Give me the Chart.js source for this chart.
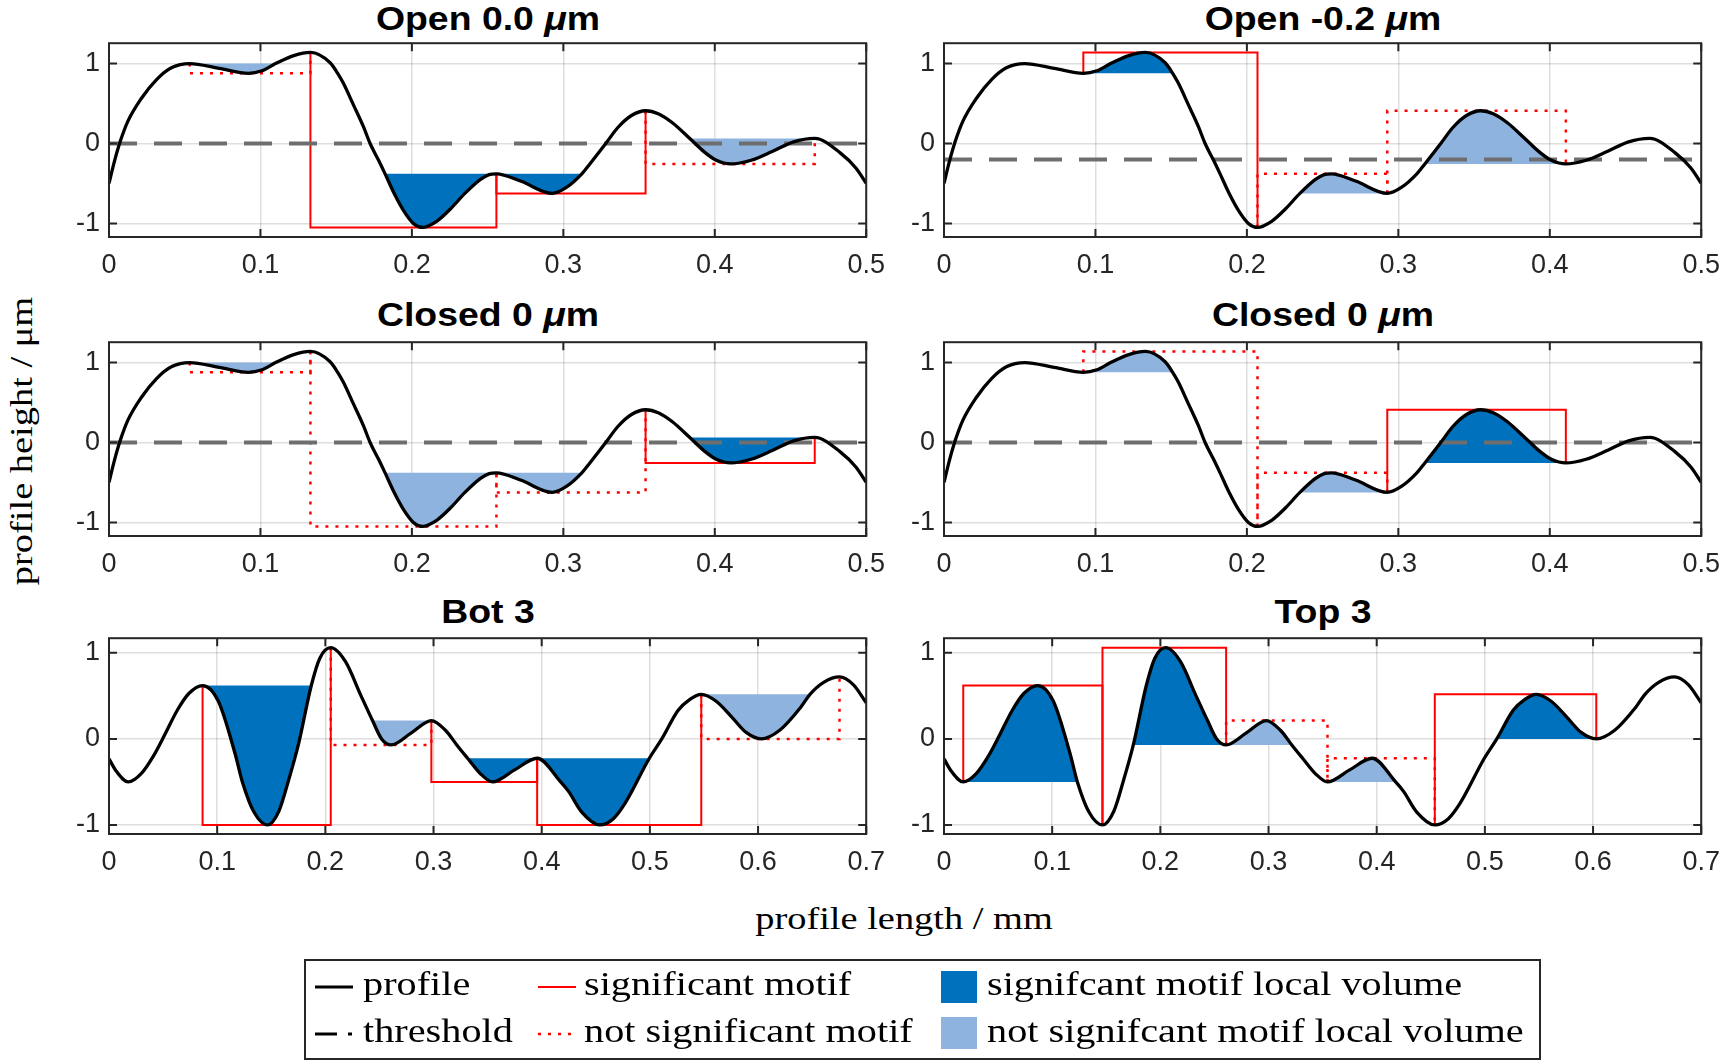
<!DOCTYPE html>
<html>
<head>
<meta charset="utf-8">
<script src="https://cdn.jsdelivr.net/npm/chart.js@4.4.1/dist/chart.umd.min.js"></script>
<style>
  body { margin: 0; background: #fff; width: 1720px; height: 1062px; position: relative; overflow: hidden; }
  canvas { position: absolute; }
  .title { position: absolute; font: bold 34px "Liberation Sans", Arial, sans-serif; line-height: 1; color: #000;
           white-space: nowrap; transform: translateX(-50%) scaleX(1.1); }
  .serif { position: absolute; font: 32px "Liberation Serif", "Times New Roman", serif; line-height: 1; color: #000;
           white-space: nowrap; }
  .lbl { font-size: 33px; transform-origin: left center; transform: scaleX(1.22); }
  #legend { position: absolute; left: 304px; top: 959px; width: 1233px; height: 97px; border: 2px solid #262626; }
  .patch { position: absolute; width: 36px; height: 32px; }
</style>
</head>
<body>

<script>
// ---- data ----
const xTicksShort = [0, 0.1, 0.2, 0.3, 0.4, 0.5];
const xTicksLong = [0, 0.1, 0.2, 0.3, 0.4, 0.5, 0.6, 0.7];
const yTicks = [-1, 0, 1];

// profile used in the upper four panels (mm, µm)
const profileAX = [0, 0.0035, 0.0075, 0.0125, 0.0212, 0.0314, 0.0415, 0.0533, 0.0727, 0.092, 0.101, 0.110, 0.122, 0.133,
  0.146, 0.151, 0.1547, 0.1614, 0.168, 0.1724, 0.178, 0.1823, 0.1879, 0.1945, 0.201, 0.207, 0.2166, 0.2254, 0.235,
  0.2453, 0.251, 0.2558, 0.2717, 0.2927, 0.302, 0.3122, 0.3175, 0.328, 0.336, 0.345, 0.3543, 0.363, 0.372, 0.3835,
  0.393, 0.401, 0.4106, 0.424, 0.4383, 0.452, 0.466, 0.483, 0.4933, 0.5];
const profileAY = [-0.50, -0.23, 0.03, 0.28, 0.56, 0.80, 0.95, 1.0, 0.94, 0.878, 0.91, 1.0, 1.10, 1.14,
  1.01, 0.878, 0.756, 0.483, 0.21, 0.0, -0.21, -0.38, -0.61, -0.84, -1.0, -1.05, -0.97, -0.82, -0.625,
  -0.45, -0.39, -0.38, -0.47, -0.625, -0.55, -0.38, -0.256, 0.0, 0.20, 0.35, 0.41, 0.37, 0.26, 0.063,
  -0.105, -0.21, -0.256, -0.21, -0.097, 0.02, 0.063, -0.12, -0.31, -0.50];

// profile used in the bottom two panels
const profileBX = [0, 0.007, 0.0178, 0.03, 0.041, 0.052, 0.063, 0.074, 0.0865, 0.101, 0.1165, 0.1233, 0.134, 0.1465,
  0.157, 0.166, 0.175, 0.187, 0.195, 0.205, 0.2185, 0.233, 0.2436, 0.252, 0.2608, 0.2795, 0.298, 0.311, 0.3215, 0.3315,
  0.343, 0.3545, 0.375, 0.3958, 0.4175, 0.4248, 0.437, 0.4537, 0.466, 0.477, 0.4995, 0.511, 0.526, 0.537, 0.5475,
  0.561, 0.5753, 0.589, 0.603, 0.62, 0.639, 0.648, 0.661, 0.6753, 0.688, 0.7];
const profileBY = [-0.232, -0.38, -0.50, -0.40, -0.20, 0.06, 0.33, 0.53, 0.62, 0.44, -0.17, -0.50, -0.85, -1.00,
  -0.84, -0.48, -0.07, 0.62, 0.94, 1.06, 0.90, 0.50, 0.213, 0.0, -0.07, 0.07, 0.213, 0.10, -0.07, -0.225,
  -0.40, -0.50, -0.36, -0.225, -0.50, -0.61, -0.85, -1.00, -0.93, -0.75, -0.225, 0.0, 0.33, 0.46, 0.518,
  0.44, 0.26, 0.075, 0.0, 0.10, 0.36, 0.518, 0.66, 0.72, 0.63, 0.42];

const panelTitles = ['Open 0.0 <i>μ</i>m', 'Open -0.2 <i>μ</i>m', 'Closed 0 <i>μ</i>m', 'Closed 0 <i>μ</i>m', 'Bot 3', 'Top 3'];
const thresholds = [0, -0.2, 0, 0, null, null];

// motifs: [xStart, xEnd, yStart, level, yEnd]
const sigMotifs = [
  [[0.133, 0.2558, 1.14, -1.05, -0.38], [0.2558, 0.3543, -0.38, -0.625, 0.41]],
  [[0.092, 0.207, 0.878, 1.14, -1.05]],
  [[0.3543, 0.466, 0.41, -0.256, 0.063]],
  [[0.2927, 0.4106, -0.625, 0.41, -0.256]],
  [[0.0865, 0.205, 0.62, -1.0, 1.06], [0.298, 0.3958, 0.213, -0.50, -0.225], [0.3958, 0.5475, -0.225, -1.0, 0.518]],
  [[0.0178, 0.1465, -0.50, 0.62, -1.0], [0.1465, 0.2608, -1.0, 1.06, -0.07], [0.4537, 0.603, -1.0, 0.518, 0.0]]
];
const weakMotifs = [
  [[0.0533, 0.133, 1.0, 0.878, 1.14], [0.3543, 0.466, 0.41, -0.256, 0.063]],
  [[0.207, 0.2927, -1.05, -0.38, -0.625], [0.2927, 0.4106, -0.625, 0.41, -0.256]],
  [[0.0533, 0.133, 1.0, 0.878, 1.14], [0.133, 0.2558, 1.14, -1.05, -0.38], [0.2558, 0.3543, -0.38, -0.625, 0.41]],
  [[0.092, 0.207, 0.878, 1.14, -1.05], [0.207, 0.2927, -1.05, -0.38, -0.625]],
  [[0.205, 0.298, 1.06, -0.07, 0.213], [0.5475, 0.6753, 0.518, 0.0, 0.72]],
  [[0.2608, 0.3545, -0.07, 0.213, -0.50], [0.3545, 0.4537, -0.50, -0.225, -1.0]]
];

// local volumes: [xStart, xEnd, level]
const sigVolumes = [
  [[0.1823, 0.3122, -0.38]],
  [[0.092, 0.151, 0.878]],
  [[0.3835, 0.466, 0.063]],
  [[0.3175, 0.4106, -0.256]],
  [[0.0865, 0.187, 0.62], [0.3315, 0.4995, -0.225]],
  [[0.0178, 0.1233, -0.50], [0.175, 0.2608, -0.07], [0.511, 0.603, 0.0]]
];
const weakVolumes = [
  [[0.0533, 0.110, 1.0], [0.3835, 0.466, 0.063]],
  [[0.235, 0.2927, -0.625], [0.3175, 0.4106, -0.256]],
  [[0.0533, 0.110, 1.0], [0.1823, 0.3122, -0.38]],
  [[0.092, 0.151, 0.878], [0.235, 0.2927, -0.625]],
  [[0.2436, 0.298, 0.213], [0.5475, 0.648, 0.518]],
  [[0.2608, 0.3215, -0.07], [0.3545, 0.4175, -0.50]]
];

// ---- layout ----
const colLeft = [109, 944];
const rowTop = [43, 342, 638];
const rowHeight = [194, 194, 196];
const titleTop = [1, 297, 594];
const plotW = 757;
const PAD_L = 60, PAD_T = 12, PAD_R = 30, PAD_B = 50;

const DARK = '#0072BD';
const LIGHT = 'rgb(141,179,222)';
const AXIS = '#262626';

// MATLAB-style box with inward ticks on all four sides
const boxTicks = {
  id: 'boxTicks',
  afterDraw(chart) {
    const { ctx, chartArea: a, scales: { x, y } } = chart;
    ctx.save();
    ctx.strokeStyle = AXIS;
    ctx.lineWidth = 2;
    ctx.strokeRect(a.left, a.top, a.right - a.left, a.bottom - a.top);
    ctx.beginPath();
    x.ticks.forEach(t => {
      const px = x.getPixelForValue(t.value);
      ctx.moveTo(px, a.bottom); ctx.lineTo(px, a.bottom - 8);
      ctx.moveTo(px, a.top); ctx.lineTo(px, a.top + 8);
    });
    y.ticks.forEach(t => {
      const py = y.getPixelForValue(t.value);
      ctx.moveTo(a.left, py); ctx.lineTo(a.left + 8, py);
      ctx.moveTo(a.right, py); ctx.lineTo(a.right - 8, py);
    });
    ctx.stroke();
    ctx.restore();
  }
};

function toPoints(xs, ys) {
  return xs.map((x, i) => ({ x: x, y: ys[i] }));
}

function volumePoints(xs, ys, v) {
  const pts = [{ x: v[0], y: v[2] }];
  xs.forEach((x, i) => { if (x > v[0] && x < v[1]) pts.push({ x: x, y: ys[i] }); });
  pts.push({ x: v[1], y: v[2] });
  return pts;
}

function motifPoints(m) {
  return [{ x: m[0], y: m[2] }, { x: m[0], y: m[3] }, { x: m[1], y: m[3] }, { x: m[1], y: m[4] }];
}

function panelConfig(i) {
  const bottomRow = i >= 4;
  const xs = bottomRow ? profileBX : profileAX;
  const ys = bottomRow ? profileBY : profileAY;
  const xTicks = bottomRow ? xTicksLong : xTicksShort;
  const xMax = xTicks[xTicks.length - 1];

  const datasets = [];
  datasets.push({
    data: toPoints(xs, ys), borderColor: '#000', borderWidth: 3.3, pointRadius: 0,
    cubicInterpolationMode: 'monotone', fill: false, order: 0
  });
  if (thresholds[i] !== null) {
    datasets.push({
      data: [{ x: 0, y: thresholds[i] }, { x: xMax, y: thresholds[i] }],
      borderColor: '#6e6e6e', borderWidth: 4, borderDash: [28, 17], pointRadius: 0, fill: false, order: 1
    });
  }
  sigMotifs[i].forEach(m => datasets.push({
    data: motifPoints(m), borderColor: '#ff0000', borderWidth: 2, pointRadius: 0, fill: false, order: 2
  }));
  weakMotifs[i].forEach(m => datasets.push({
    data: motifPoints(m), borderColor: '#ff0000', borderWidth: 2.5, borderDash: [3, 7], borderCapStyle: 'butt',
    pointRadius: 0, fill: false, order: 3
  }));
  sigVolumes[i].forEach(v => datasets.push({
    data: volumePoints(xs, ys, v), borderWidth: 0, borderColor: 'transparent', backgroundColor: DARK,
    pointRadius: 0, cubicInterpolationMode: 'monotone', fill: { value: v[2] }, order: 4
  }));
  weakVolumes[i].forEach(v => datasets.push({
    data: volumePoints(xs, ys, v), borderWidth: 0, borderColor: 'transparent', backgroundColor: LIGHT,
    pointRadius: 0, cubicInterpolationMode: 'monotone', fill: { value: v[2] }, order: 4
  }));

  const tickFont = { family: '"Liberation Sans", Arial, sans-serif', size: 27 };
  return {
    type: 'line',
    data: { datasets: datasets },
    options: {
      responsive: false,
      maintainAspectRatio: false,
      animation: false,
      layout: { padding: { top: PAD_T, right: PAD_R, left: 0, bottom: 0 }, autoPadding: false },
      plugins: { legend: { display: false }, tooltip: { enabled: false } },
      scales: {
        x: {
          type: 'linear', min: 0, max: xMax,
          afterBuildTicks: s => { s.ticks = xTicks.map(v => ({ value: v })); },
          afterFit: s => { s.height = PAD_B; },
          grid: { color: 'rgba(0,0,0,0.13)', lineWidth: 1.5, drawTicks: false },
          border: { display: false },
          ticks: { font: tickFont, color: AXIS, padding: 12, maxRotation: 0, autoSkip: false, callback: v => String(v) }
        },
        y: {
          type: 'linear', min: bottomRow ? -1.105 : -1.17, max: bottomRow ? 1.17 : 1.255,
          afterBuildTicks: s => { s.ticks = yTicks.map(v => ({ value: v })); },
          afterFit: s => { s.width = PAD_L; },
          grid: { color: 'rgba(0,0,0,0.13)', lineWidth: 1.5, drawTicks: false },
          border: { display: false },
          ticks: { font: tickFont, color: AXIS, padding: 9, autoSkip: false, callback: v => String(v) }
        }
      }
    },
    plugins: [boxTicks]
  };
}

function makePanel(i) {
  const row = Math.floor(i / 2), col = i % 2;

  const title = document.createElement('div');
  title.className = 'title';
  title.innerHTML = panelTitles[i];
  title.style.left = (colLeft[col] + plotW / 2) + 'px';
  title.style.top = titleTop[row] + 'px';
  document.body.appendChild(title);

  const canvas = document.createElement('canvas');
  const w0 = plotW + PAD_L + PAD_R, h0 = rowHeight[row] + PAD_T + PAD_B;
  canvas.width = w0;
  canvas.height = h0;
  document.body.appendChild(canvas);

  let chart = new Chart(canvas.getContext('2d'), panelConfig(i));
  let a = chart.chartArea;
  // make the plot box exactly the size measured on the figure
  const dw = plotW - Math.round(a.right - a.left);
  const dh = rowHeight[row] - Math.round(a.bottom - a.top);
  if (dw || dh) {
    chart.destroy();
    canvas.width = w0 + dw;
    canvas.height = h0 + dh;
    chart = new Chart(canvas.getContext('2d'), panelConfig(i));
    a = chart.chartArea;
  }
  canvas.style.left = (colLeft[col] - a.left) + 'px';
  canvas.style.top = (rowTop[row] - a.top) + 'px';
}

for (let i = 0; i < 6; i++) makePanel(i);
</script>

<div class="serif" style="left:904px; top:902px; transform: translateX(-50%) scaleX(1.2);">profile length / mm</div>
<div class="serif" style="left:21px; top:441px; transform: translate(-50%,-50%) rotate(-90deg) scaleX(1.2);">profile height / μm</div>

<div id="legend"></div>
<svg style="position:absolute;left:0;top:0" width="1720" height="1062">
  <line x1="315" y1="987" x2="353" y2="987" stroke="#000" stroke-width="3"/>
  <line x1="315" y1="1034" x2="337" y2="1034" stroke="#000" stroke-width="3"/>
  <line x1="348" y1="1034" x2="352" y2="1034" stroke="#000" stroke-width="3"/>
  <line x1="538" y1="987" x2="576" y2="987" stroke="#ff0000" stroke-width="2"/>
  <line x1="538" y1="1034" x2="576" y2="1034" stroke="#ff0000" stroke-width="2.5" stroke-dasharray="3 7"/>
</svg>
<div class="patch" style="left:941px; top:971px; background:#0072BD;"></div>
<div class="patch" style="left:941px; top:1017px; background:rgb(141,179,222);"></div>
<div class="serif lbl" style="left:363px; top:968px;">profile</div>
<div class="serif lbl" style="left:363px; top:1015px;">threshold</div>
<div class="serif lbl" style="left:584px; top:968px;">significant motif</div>
<div class="serif lbl" style="left:584px; top:1015px;">not significant motif</div>
<div class="serif lbl" style="left:987px; top:968px;">signifcant motif local volume</div>
<div class="serif lbl" style="left:987px; top:1015px;">not signifcant motif local volume</div>

</body>
</html>
